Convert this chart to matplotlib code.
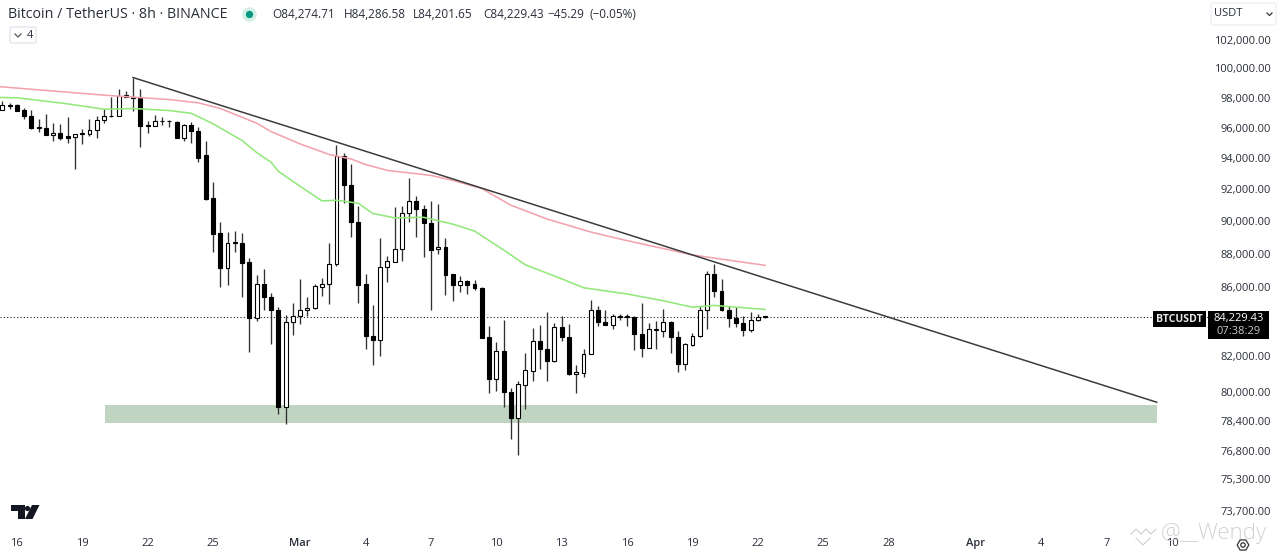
#!/usr/bin/env python
# -*- coding: utf-8 -*-
import matplotlib
matplotlib.use("Agg")
import matplotlib.pyplot as plt
from matplotlib.patches import FancyBboxPatch, Rectangle, Polygon

plt.rcParams["font.family"] = ["Open Sans", "DejaVu Sans"]

# 8h candles, first one sits two bars before the "16" tick
opens = [97170, 97460, 97490, 97150, 96770, 96000, 95980, 95510, 95670, 95410,
         95390, 95580, 95580, 95850, 96510, 96750, 96770, 98160, 98030, 97960,
         96080, 96100, 96410, 96410, 96390, 95320, 96150, 95780, 94180, 91450,
         89240, 87120, 88630, 88670, 87480, 84180, 86190, 85430, 84660, 79150,
         83950, 84270, 84640, 84760, 86010, 86190, 87360, 94120, 92260, 89920,
         86150, 83160, 82890, 87180, 87520, 88260, 90470, 91260, 90740, 89880,
         88260, 88380, 86760, 86110, 86360, 86150, 85930, 83090, 80700, 82300,
         80000, 78550, 80390, 81170, 82870, 82400, 81690, 83630, 83100, 80980,
         81050, 82120, 84660, 83950, 83750, 84230, 84230, 84230, 83250, 82470,
         83500, 83420, 83950, 83080, 81520, 82630, 83120, 84640, 86760, 85750,
         84640, 84150, 83890, 83480, 84060, 84274.71]
highs = [97800, 97620, 97580, 97280, 97170, 96550, 96910, 96280, 96240, 96680,
         95580, 95880, 96570, 96750, 97240, 98010, 98590, 98480, 99370, 98590,
         96460, 96840, 96680, 96530, 96410, 96240, 96390, 96030, 95090, 92450,
         89920, 89340, 89380, 89240, 87760, 86680, 87060, 85640, 84820, 84370,
         85040, 86480, 85430, 86190, 86520, 88630, 94880, 94310, 93630, 90930,
         86780, 84930, 88930, 87860, 90870, 90930, 92690, 91550, 90990, 91240,
         91050, 88980, 86780, 86620, 86420, 86420, 85990, 83690, 82800, 84080,
         80220, 80590, 82170, 83570, 83750, 84500, 83890, 84270, 83850, 81460,
         82420, 85240, 84850, 84620, 84430, 84430, 84430, 84270, 85040, 83890,
         83980, 84720, 83980, 83400, 82740, 83300, 84850, 86920, 87380, 86460,
         84890, 84820, 84310, 84530, 84410, 84286.58]
lows = [97170, 97210, 97130, 96550, 95930, 95690, 95490, 95140, 95180, 94960,
        93310, 94920, 95410, 95320, 96280, 96730, 96750, 98010, 97130, 94750,
        95670, 96070, 96190, 96030, 95290, 95140, 95010, 93730, 91300, 88120,
        85990, 86130, 88120, 85400, 82210, 83980, 84620, 82700, 78760, 78240,
        83180, 83830, 84310, 84720, 85470, 85000, 87220, 91130, 89030, 85040,
        82420, 81460, 81980, 86280, 87520, 87560, 89960, 89030, 87780, 84620,
        87960, 85530, 85140, 85710, 85600, 85790, 83010, 79940, 80040, 79150,
        77420, 76570, 79030, 80590, 81280, 80590, 81650, 82830, 80940, 79920,
        80790, 82080, 83690, 83750, 83560, 84040, 83690, 82360, 81930, 82460,
        82400, 83060, 82170, 81090, 81180, 82590, 83100, 83540, 85400, 84560,
        83630, 83630, 83160, 83340, 84020, 84201.65]
closes = [97490, 97530, 97130, 96750, 95980, 96060, 95490, 95650, 95290, 95340,
          95540, 95620, 95850, 96510, 96770, 96790, 98140, 98010, 97960, 96070,
          96150, 96460, 96460, 96460, 95320, 96170, 95750, 93970, 91400, 89210,
          87120, 88630, 88690, 87460, 84180, 86190, 85400, 84620, 79140, 83970,
          84270, 84640, 84760, 86030, 86190, 87360, 94120, 92240, 89920, 86130,
          83120, 82890, 87200, 87540, 88260, 90510, 91280, 90720, 89860, 88240,
          88380, 86720, 86130, 86350, 86130, 85910, 83030, 80700, 82290, 79960,
          78550, 80400, 81180, 82870, 82380, 81690, 83630, 83060, 80960, 81090,
          82120, 84660, 83920, 83780, 84270, 84270, 84270, 83230, 82470, 83540,
          83540, 83950, 83080, 81520, 82660, 83140, 84640, 86780, 85730, 84640,
          84150, 83890, 83500, 84060, 84230, 84229.43]

red_idx = [-1, 14, 23, 27, 30, 35, 37, 41, 45, 48, 50, 53, 56, 59, 62, 66, 70,
           75, 81, 85, 90, 95, 100, 105]
red_ma = [98770, 98170, 97870, 97650, 97270, 96290, 95730, 94920, 94230, 93940,
          93580, 93200, 93040, 92880, 92560, 92040, 90990, 90120, 89320, 88890,
          88400, 87920, 87600, 87290]

green_idx = [-1, 2, 9, 14, 18, 23, 26, 29, 33, 35, 37, 38, 41, 44, 46, 49, 51,
             54, 58, 62, 65, 69, 72, 77, 80, 86, 91, 95, 98, 105]
green_ma = [98020, 97990, 97580, 97220, 97270, 97130, 96950, 96250, 95140, 94360,
            93720, 93140, 92180, 91260, 91300, 91110, 90470, 90200, 90230, 89810,
            89380, 88220, 87320, 86480, 85950, 85580, 85180, 84800, 84910, 84670]

trend_idx = [18, 158.9]
trend_price = [99370, 79420]

zone_idx = [14.1, 158.9]
zone_price = [78290, 79270]

y_ticks = [102000, 100000, 98000, 96000, 94000, 92000, 90000, 88000, 86000,
           82000, 80000, 78400, 76800, 75300, 73700]
x_ticks = [2, 11, 20, 29, 41, 50, 59, 68, 77, 86, 95, 104, 113, 122, 134, 143, 152, 161]
x_labels = ["16", "19", "22", "25", "Mar", "4", "7", "10", "13", "16", "19", "22",
            "25", "28", "Apr", "4", "7", "10"]

TEXT = "#2a2e39"
W, H = 1280, 557
PLOT_R, PLOT_B = 1208, 530

fig = plt.figure(figsize=(W / 100, H / 100), dpi=100, facecolor="white")
ax = fig.add_axes([0, (H - PLOT_B) / H, PLOT_R / W, PLOT_B / H])

for i in range(len(opens)):
    up = closes[i] >= opens[i]
    bottom = min(opens[i], closes[i])
    top = max(opens[i], closes[i])
    ax.vlines(i, lows[i], highs[i], color="#303030", lw=0.95, zorder=3)
    ax.bar(i, top - bottom, bottom=bottom, width=0.54, color="white" if up else "black",
           edgecolor="black", lw=0.8, zorder=4)

ax.axhline(closes[-1], color="#222222", lw=0.8, ls=(0, (1, 2)), zorder=2)
ax.plot(red_idx, red_ma, color="#f3a3ae", lw=1.15, zorder=5)
ax.plot(green_idx, green_ma, color="#93e87c", lw=1.15, zorder=5)
ax.plot(trend_idx, trend_price, color="#3c3c3c", lw=1.1, zorder=6)
ax.add_patch(Rectangle((zone_idx[0], zone_price[0]), zone_idx[1] - zone_idx[0],
                       zone_price[1] - zone_price[0], facecolor="#c1d4c2",
                       edgecolor="none", zorder=1))

ax.set_yscale("log")
ax.set_xlim(-0.317, 165.96)
ax.set_ylim(72716, 104832)
ax.yaxis.tick_right()
ax.set_yticks(y_ticks, ["{:,.2f}".format(v) for v in y_ticks])
ax.minorticks_off()
ax.set_xticks(x_ticks, x_labels)
ax.tick_params(axis="y", length=0, pad=45.5, labelsize=8, labelcolor=TEXT)
ax.tick_params(axis="x", length=0, pad=5.5, labelsize=8, labelcolor=TEXT)
for t in ax.get_yticklabels():
    t.set_horizontalalignment("right")
for t in ax.get_xticklabels():
    if t.get_text() in ("Mar", "Apr"):
        t.set_fontweight("semibold")
for s in ax.spines.values():
    s.set_visible(False)

# header, price tags, logo: overlay in pixel coordinates
ov = fig.add_axes([0, 0, 1, 1], zorder=10)
ov.set_xlim(0, W)
ov.set_ylim(H, 0)
ov.axis("off")

ov.text(8, 14, "Bitcoin / TetherUS · 8h · BINANCE", fontsize=10.3, color=TEXT, va="center")
ov.scatter([249], [14], s=110, color="#d5efe9", lw=0)
ov.scatter([249], [14], s=28, color="#089981", lw=0)
for x, s in [(272, "O84,274.71"), (344, "H84,286.58"), (413, "L84,201.65"),
             (483, "C84,229.43"), (547, "−45.29"), (589, "(−0.05%)")]:
    ov.text(x, 14, s, fontsize=8.5, color=TEXT, va="center")

ov.add_patch(FancyBboxPatch((10, 27), 26, 16, boxstyle="round,pad=0,rounding_size=2",
                            fc="white", ec="#e0e3eb", lw=0.9))
ov.plot([15, 18, 21], [34, 37, 34], color="#555555", lw=0.9)
ov.text(27, 35, "4", fontsize=8, color=TEXT, va="center")

ov.add_patch(FancyBboxPatch((1211, 3), 65, 22, boxstyle="round,pad=0,rounding_size=3",
                            fc="white", ec="#eceef3", lw=0.9))
ov.text(1214, 14, "USDT", fontsize=8, color=TEXT, va="center")
ov.plot([1267, 1269.5, 1272], [13, 15.5, 13], color="#333333", lw=0.9)

ov.add_patch(Rectangle((1153, 311), 53, 16, fc="black", ec="none"))
ov.text(1179.5, 319, "BTCUSDT", fontsize=7.6, fontweight="bold", color="#e8e8e8",
        ha="center", va="center")
ov.add_patch(Rectangle((1208, 311), 61, 28, fc="black", ec="none"))
ov.text(1238.5, 318.5, "{:,.2f}".format(closes[-1]), fontsize=8, color="white",
        ha="center", va="center")
ov.text(1238.5, 331, "07:38:29", fontsize=8, color="#c8c8c8", ha="center", va="center")

# TradingView logo
ov.add_patch(Polygon([(11, 505), (25, 505), (25, 519), (18, 519), (18, 511), (11, 511)],
                     fc="#131722", ec="none"))
ov.scatter([26.5], [507.5], s=14, color="#131722", lw=0)
ov.add_patch(Polygon([(32, 505), (39.5, 505), (32.5, 519), (25, 519)], fc="#131722", ec="none"))

# settings icon
ov.scatter([1243], [545], s=70, marker="H", facecolor="none", edgecolor="#333333", lw=0.9)
ov.scatter([1243], [545], s=10, marker="o", facecolor="none", edgecolor="#333333", lw=0.9)

# watermark
ov.plot([1131, 1136, 1141, 1146, 1151, 1156], [534, 529, 534, 529, 534, 529], color="#c8c8c8", lw=0.7)
ov.plot([1136, 1143, 1150], [538, 545, 538], color="#c8c8c8", lw=0.7)
ov.text(1161, 534, "@__Wendy", fontsize=16, color="#d2d2d2", va="center", fontweight="light")

fig.savefig("out.png", dpi=100, facecolor="white")
